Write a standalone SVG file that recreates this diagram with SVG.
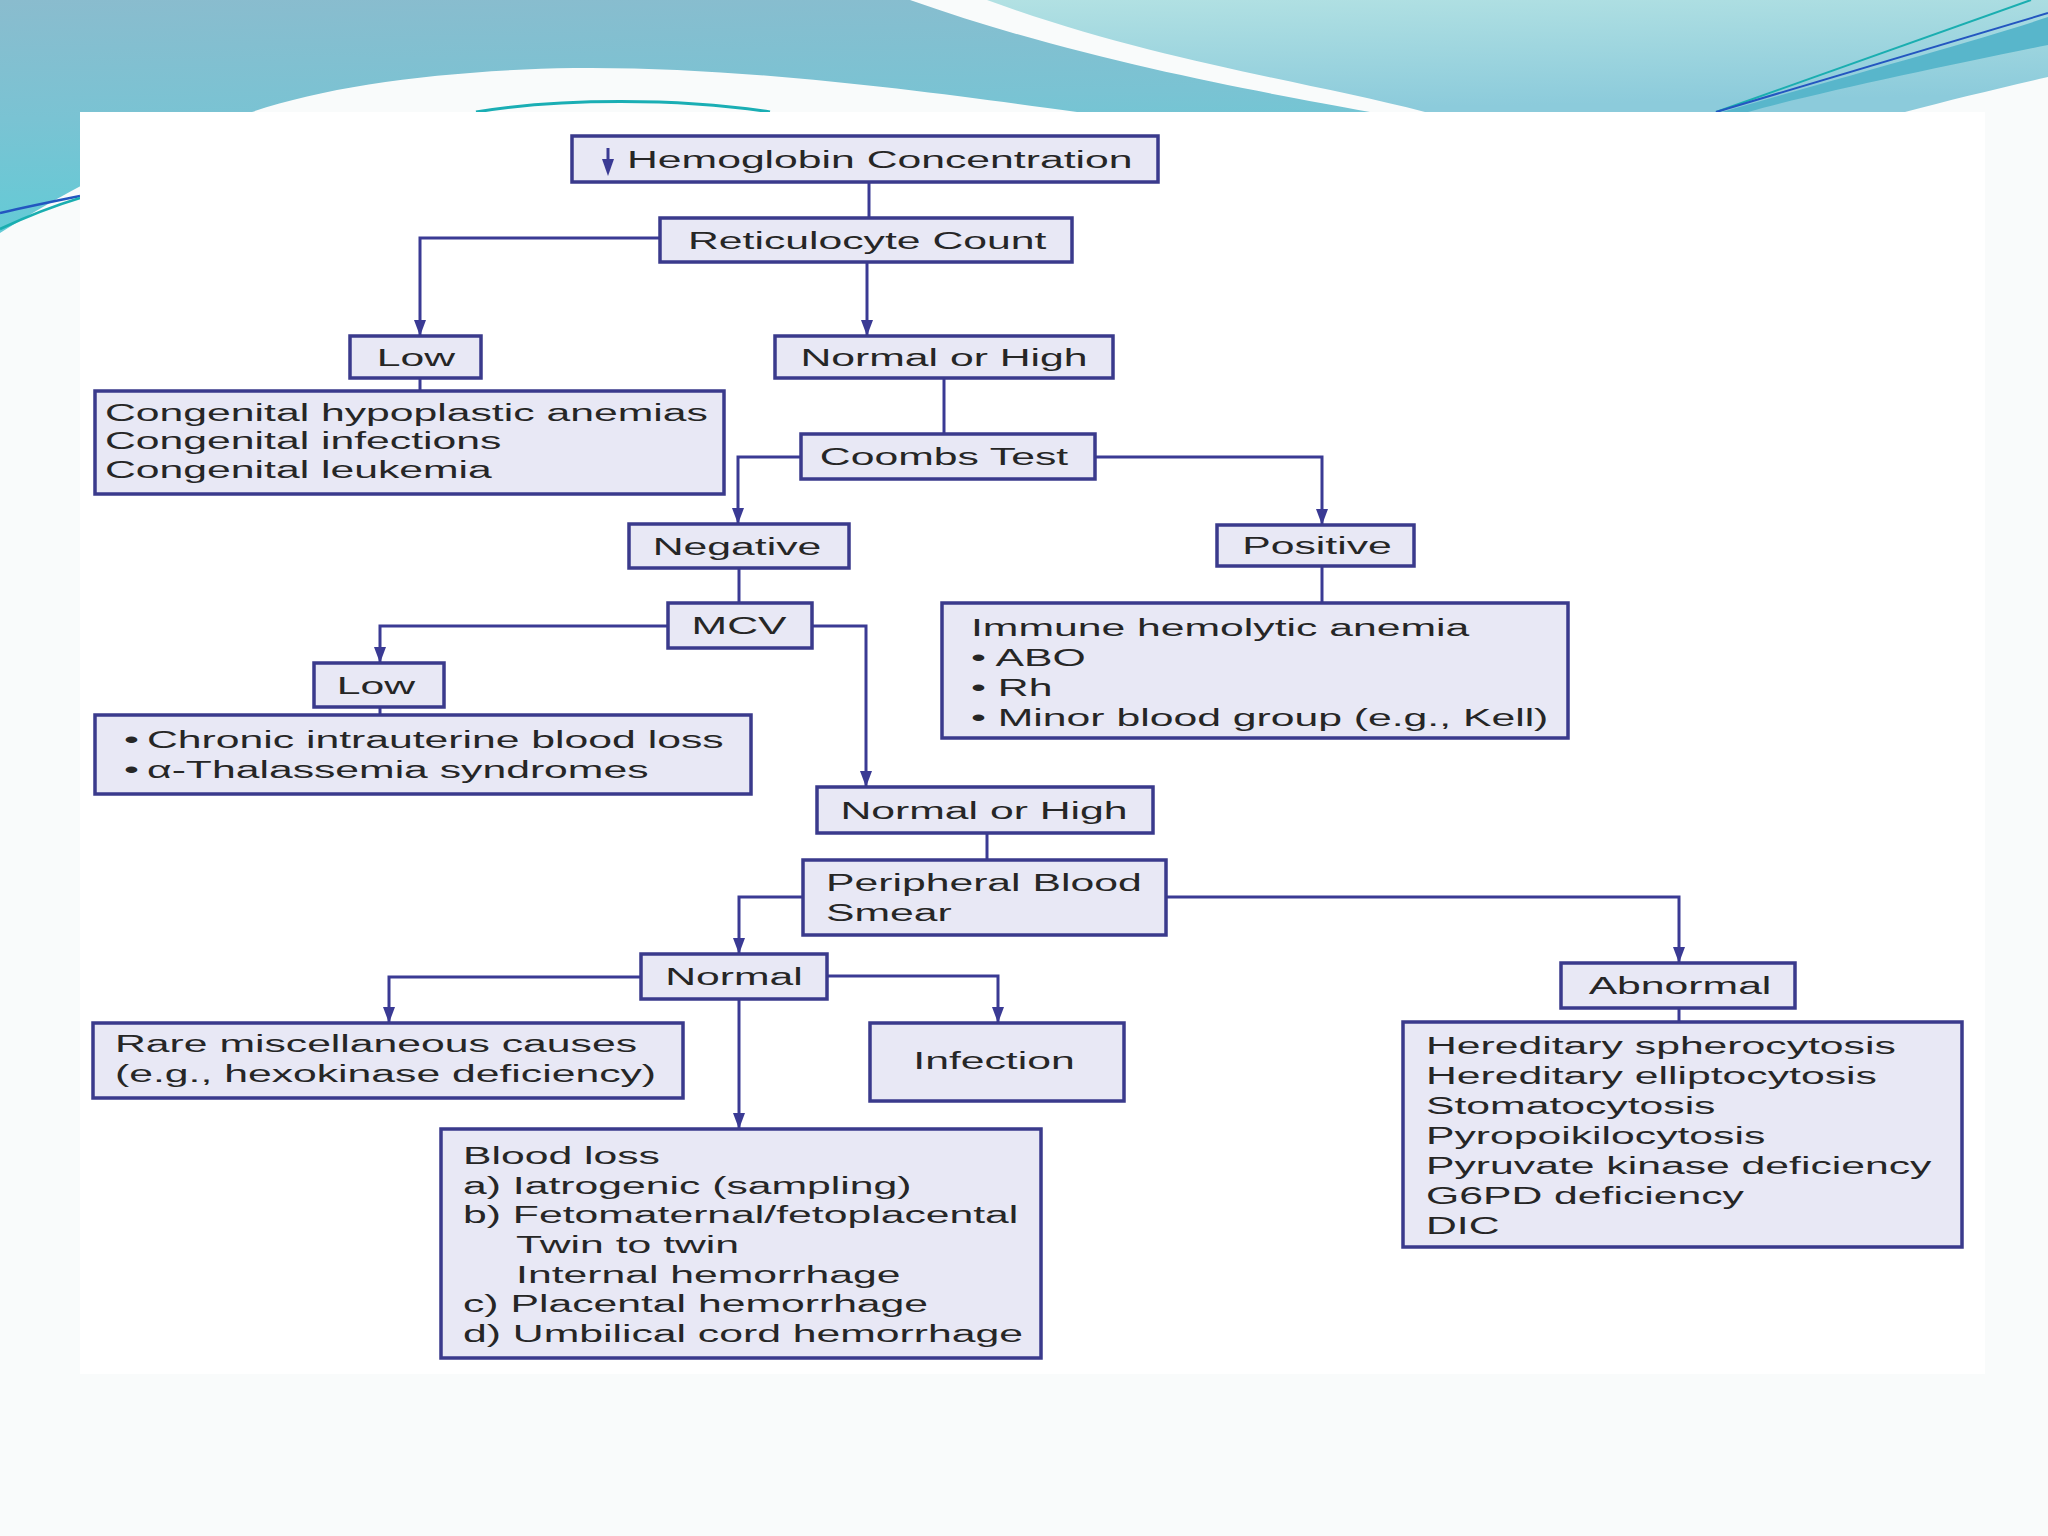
<svg xmlns="http://www.w3.org/2000/svg" width="2048" height="1536" viewBox="0 0 2048 1536">
<defs>
<linearGradient id="gDark" x1="0" y1="0" x2="0.15" y2="1">
<stop offset="0" stop-color="#8abcce"/>
<stop offset="0.5" stop-color="#7ac3d3"/>
<stop offset="1" stop-color="#62cbd6"/>
</linearGradient>
<linearGradient id="gLight" x1="0" y1="0" x2="0.2" y2="1">
<stop offset="0" stop-color="#b2e1e3"/>
<stop offset="1" stop-color="#8ccbdb"/>
</linearGradient>
<marker id="ah" markerUnits="userSpaceOnUse" markerWidth="16" markerHeight="12" refX="16" refY="6" orient="auto">
<path d="M0,0 L16,6 L0,12 Z" fill="#3a3a94"/>
</marker>
<style>
.box{fill:#e8e8f5;stroke:#3a3a8c;stroke-width:3.5}
.con{fill:none;stroke:#3a3a94;stroke-width:3}
.arr{marker-end:url(#ah)}
.t{font-family:"Liberation Sans",Arial,Helvetica,sans-serif;font-size:24px;fill:#262626}
.c{text-anchor:middle}
</style>
</defs>
<g id="background">
<rect x="0" y="0" width="2048" height="1536" fill="#f9fbfb"/>
<path d="M0,0 L910,0 C1080,60 1250,90 1370,112 L1077,112 C950,95 750,66 574,68 C450,70 330,85 252,112 C180,137 100,170 0,233 Z" fill="url(#gDark)"/>
<path d="M987,0 L2048,0 L2048,77 C2000,88 1950,100 1905,112 L1425,112 C1300,80 1150,60 987,0 Z" fill="url(#gLight)"/>
<path d="M1722,112 C1850,75 1980,40 2048,17 L2048,45 C1950,65 1820,92 1748,112 Z" fill="#58b6cb"/>
<path d="M1716,112 L2031,0" stroke="#1aaeb0" stroke-width="2" fill="none"/>
<path d="M1716,112 L2048,13" stroke="#2356c0" stroke-width="2" fill="none"/>
<path d="M476,112 C560,98 680,98 770,112" stroke="#1aaeb4" stroke-width="3" fill="none"/>
<path d="M0,213 C30,206 60,200 80,196" stroke="#2356c0" stroke-width="2.5" fill="none"/>
<path d="M0,229 C30,215 60,204 80,198" stroke="#1aaeb0" stroke-width="2.5" fill="none"/>
<rect x="80" y="112" width="1905" height="1262" fill="#ffffff"/>
</g>
<g id="connectors">
<path class="con" d="M869,182 V218"/>
<path class="con arr" d="M660,238 H420 V336"/>
<path class="con arr" d="M867,262 V336"/>
<path class="con" d="M420,378 V391"/>
<path class="con" d="M944,378 V434"/>
<path class="con arr" d="M801,457 H738 V524"/>
<path class="con arr" d="M1095,457 H1322 V525"/>
<path class="con" d="M739,568 V603"/>
<path class="con" d="M1322,566 V603"/>
<path class="con arr" d="M668,626 H380 V663"/>
<path class="con arr" d="M812,626 H866 V787"/>
<path class="con" d="M380,707 V715"/>
<path class="con" d="M987,833 V860"/>
<path class="con arr" d="M803,897 H739 V954"/>
<path class="con arr" d="M1166,897 H1679 V963"/>
<path class="con arr" d="M641,977 H389 V1023"/>
<path class="con arr" d="M827,976 H998 V1023"/>
<path class="con arr" d="M739,999 V1129"/>
<path class="con" d="M1679,1008 V1022"/>
</g>
<g id="hemoglobin">
<rect class="box" x="572" y="136" width="586" height="46"/>
<path d="M608,148 V165" stroke="#3a3a94" stroke-width="3"/>
<path d="M602,159 L614,159 L608,176 Z" fill="#3a3a94"/>
<text class="t" transform="matrix(1.78 0 0 1 627 168)">Hemoglobin Concentration</text>
</g>
<g id="reticulocyte">
<rect class="box" x="660" y="218" width="412" height="44"/>
<text class="t" transform="matrix(1.78 0 0 1 688 249)">Reticulocyte Count</text>
</g>
<g id="low-retic">
<rect class="box" x="350" y="336" width="131" height="42"/>
<text class="t c" transform="matrix(1.78 0 0 1 416 365.5)">Low</text>
</g>
<g id="normal-high-retic">
<rect class="box" x="775" y="336" width="338" height="42"/>
<text class="t c" transform="matrix(1.78 0 0 1 944 366)">Normal or High</text>
</g>
<g id="congenital">
<rect class="box" x="95" y="391" width="629" height="103"/>
<text class="t" transform="matrix(1.78 0 0 1 105 421)"><tspan x="0" y="0">Congenital hypoplastic anemias</tspan><tspan x="0" y="28.5">Congenital infections</tspan><tspan x="0" y="57">Congenital leukemia</tspan></text>
</g>
<g id="coombs">
<rect class="box" x="801" y="434" width="294" height="45"/>
<text class="t c" transform="matrix(1.78 0 0 1 944 465)">Coombs Test</text>
</g>
<g id="negative">
<rect class="box" x="629" y="524" width="220" height="44"/>
<text class="t c" transform="matrix(1.78 0 0 1 737 554.5)">Negative</text>
</g>
<g id="positive">
<rect class="box" x="1217" y="525" width="197" height="41"/>
<text class="t c" transform="matrix(1.78 0 0 1 1317 554)">Positive</text>
</g>
<g id="mcv">
<rect class="box" x="668" y="603" width="144" height="45"/>
<text class="t c" transform="matrix(1.78 0 0 1 739 634)">MCV</text>
</g>
<g id="immune">
<rect class="box" x="942" y="603" width="626" height="135"/>
<text class="t" transform="matrix(1.78 0 0 1 971 636)"><tspan x="0" y="0">Immune hemolytic anemia</tspan><tspan x="0" y="30">• ABO</tspan><tspan x="0" y="60">• Rh</tspan><tspan x="0" y="90">• Minor blood group (e.g., Kell)</tspan></text>
</g>
<g id="low-mcv">
<rect class="box" x="314" y="663" width="130" height="44"/>
<text class="t c" transform="matrix(1.78 0 0 1 376 693.5)">Low</text>
</g>
<g id="chronic">
<rect class="box" x="95" y="715" width="656" height="79"/>
<text class="t" transform="matrix(1.78 0 0 1 124 748)"><tspan x="0" y="0">• </tspan><tspan x="12.9" y="0">Chronic intrauterine blood loss</tspan><tspan x="0" y="30">• </tspan><tspan x="12.9" y="30">α-Thalassemia syndromes</tspan></text>
</g>
<g id="normal-high-mcv">
<rect class="box" x="817" y="787" width="336" height="46"/>
<text class="t c" transform="matrix(1.78 0 0 1 984 818.5)">Normal or High</text>
</g>
<g id="smear">
<rect class="box" x="803" y="860" width="363" height="75"/>
<text class="t" transform="matrix(1.78 0 0 1 826 891)"><tspan x="0" y="0">Peripheral Blood</tspan><tspan x="0" y="30">Smear</tspan></text>
</g>
<g id="normal">
<rect class="box" x="641" y="954" width="186" height="45"/>
<text class="t c" transform="matrix(1.78 0 0 1 734 985)">Normal</text>
</g>
<g id="abnormal">
<rect class="box" x="1561" y="963" width="234" height="45"/>
<text class="t c" transform="matrix(1.78 0 0 1 1680 994)">Abnormal</text>
</g>
<g id="rare">
<rect class="box" x="93" y="1023" width="590" height="75"/>
<text class="t" transform="matrix(1.78 0 0 1 115 1052)"><tspan x="0" y="0">Rare miscellaneous causes</tspan><tspan x="0" y="30.5">(e.g., hexokinase deficiency)</tspan></text>
</g>
<g id="infection">
<rect class="box" x="870" y="1023" width="254" height="78"/>
<text class="t c" transform="matrix(1.78 0 0 1 994 1069)">Infection</text>
</g>
<g id="blood-loss">
<rect class="box" x="441" y="1129" width="600" height="229"/>
<text class="t" transform="matrix(1.78 0 0 1 463 1164)"><tspan x="0" y="0">Blood loss</tspan><tspan x="0" y="29.7">a) Iatrogenic (sampling)</tspan><tspan x="0" y="59.4">b) Fetomaternal/fetoplacental</tspan><tspan x="29.8" y="89.1">Twin to twin</tspan><tspan x="29.8" y="118.8">Internal hemorrhage</tspan><tspan x="0" y="148.5">c) Placental hemorrhage</tspan><tspan x="0" y="178.2">d) Umbilical cord hemorrhage</tspan></text>
</g>
<g id="hereditary">
<rect class="box" x="1403" y="1022" width="559" height="225"/>
<text class="t" transform="matrix(1.78 0 0 1 1426 1054)"><tspan x="0" y="0">Hereditary spherocytosis</tspan><tspan x="0" y="30">Hereditary elliptocytosis</tspan><tspan x="0" y="60">Stomatocytosis</tspan><tspan x="0" y="90">Pyropoikilocytosis</tspan><tspan x="0" y="120">Pyruvate kinase deficiency</tspan><tspan x="0" y="150">G6PD deficiency</tspan><tspan x="0" y="180">DIC</tspan></text>
</g>
</svg>
